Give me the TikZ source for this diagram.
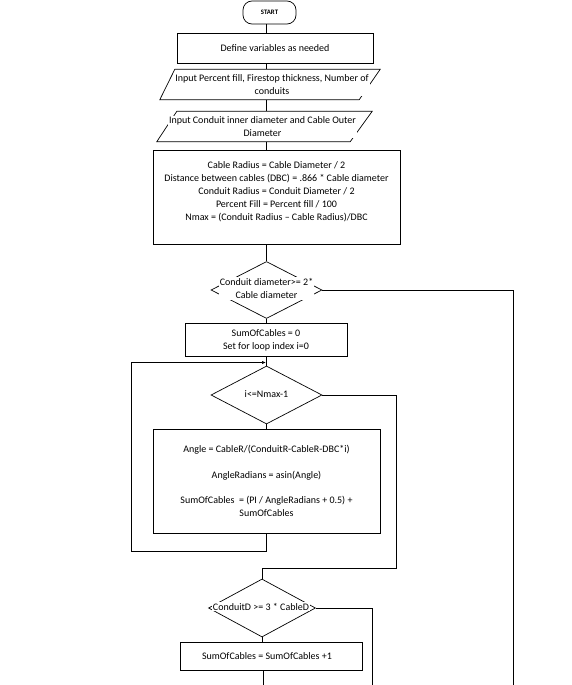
\documentclass[tikz,border=0pt]{standalone}
\usepackage{fontspec}
\setmainfont{Carlito}
\usetikzlibrary{shapes.geometric,arrows.meta}
\begin{document}
\begin{tikzpicture}[x=1pt,y=-1pt,
  ln/.style={draw=black, line width=0.7pt},
  procbox/.style={draw=black, line width=0.7pt, inner sep=1pt, align=center,
     font=\fontsize{10}{13}\selectfont},
  startbox/.style={draw=black, line width=0.7pt, rounded corners=9pt,
     minimum width=53pt, minimum height=23pt, inner sep=0pt,
     font=\bfseries\fontsize{6.8}{7}\selectfont},
  txt/.style={align=center, inner sep=1pt, font=\fontsize{10}{13}\selectfont},
  wtxt/.style={txt, fill=white},
  decis/.style={diamond, draw=black, line width=0.7pt, inner sep=0pt},
  ghost/.style={inner sep=0pt},
  tip/.style={-{Latex[length=4pt,width=3.2pt]}}
]
\useasboundingbox (0,0) rectangle (571,685);
\coordinate (spine) at (266,0);

% start
\node[startbox] (start) at (269.5,12.5) {START};
% define
\node[procbox, minimum width=196pt, minimum height=30pt] (define) at (275,48) {Define variables as needed};

% parallelogram 1
\node[ghost, minimum width=220pt, minimum height=30pt] (p1) at (270,84.5) {};
\draw[ln] ([xshift=15pt]p1.north west) -- (p1.north east) -- ([xshift=-21pt]p1.south east) -- (p1.south west) -- cycle;
\node[wtxt] (p1t) at (272,84.5) {Input Percent fill, Firestop thickness, Number of\\conduits};

% parallelogram 2
\node[ghost, minimum width=215pt, minimum height=30pt] (p2) at (264.5,126.5) {};
\draw[ln] ([xshift=20pt]p2.north west) -- (p2.north east) -- ([xshift=-22pt]p2.south east) -- (p2.south west) -- cycle;
\node[wtxt] (p2t) at (262.5,127) {Input Conduit inner diameter and Cable Outer\\Diameter};

% calculation box
\node[procbox, minimum width=247pt, minimum height=94pt] (calc) at (276.5,197) {};
\node[txt] (calct) at (276.5,191.5) {Cable Radius = Cable Diameter / 2\\
Distance between cables (DBC) = .866 * Cable diameter\\
Conduit Radius = Conduit Diameter / 2\\
Percent Fill = Percent fill / 100\\
Nmax = (Conduit Radius -- Cable Radius)/DBC};

% decision 1
\node[decis, minimum width=111pt, minimum height=57pt] (d1) at (266.5,290) {};
\node[wtxt] (d1t) at (266.5,288.5) {Conduit diameter>= 2*\\Cable diameter};

% sum = 0
\node[procbox, minimum width=162pt, minimum height=33pt] (sum0) at (266,340) {SumOfCables = 0\\Set for loop index i=0};

% decision 2
\node[decis, minimum width=111pt, minimum height=58pt] (d2) at (266.5,395) {};
\node[wtxt] (d2t) at (266.5,394) {i<=Nmax-1};

% loop body
\node[procbox, minimum width=227pt, minimum height=104pt] (body) at (266.5,481) {Angle = CableR/(ConduitR-CableR-DBC*i)\\[13pt]
AngleRadians = asin(Angle)\\[12pt]
SumOfCables \ = (PI / AngleRadians + 0.5) +\\SumOfCables};

% decision 3
\node[decis, minimum width=107pt, minimum height=58pt] (d3) at (262,608) {};
\node[wtxt] (d3t) at (261,606.5) {ConduitD >= 3 * CableD};

% sum + 1
\node[procbox, minimum width=182pt, minimum height=28pt] (sum1) at (271,656) {\hspace*{-8pt}SumOfCables = SumOfCables +1};

% helper coordinates
\coordinate (exitA) at (513,685);
\coordinate (loopL) at (131,551);
\coordinate (join1) at (266,362.5);
\coordinate (rB) at (396,568);
\coordinate (exitC) at (372,685);
\coordinate (bot) at (263,685);

% connectors
\draw[ln] (start.south -| spine) -- (define.north -| spine);
\draw[ln] (define.south -| spine) -- (p1.north -| spine);
\draw[ln] (p1.south -| spine) -- (p2.north -| spine);
\draw[ln] (p2.south -| spine) -- (calc.north -| spine);
\draw[ln] (calc.south -| spine) -- (d1.north -| spine);
\draw[ln] (d1.south -| spine) -- (sum0.north -| spine);
\draw[ln] (d1.east) -| (exitA);
\draw[ln] (sum0.south -| spine) -- (d2.north -| spine);
\draw[ln] (d2.south -| spine) -- (body.north -| spine);
\draw[ln, tip] (body.south -| spine) |- (loopL) |- (join1);
\draw[ln] (d2.east) -| (rB) -- (rB -| d3.north) -- (d3.north);
\draw[ln] (d3.east) -| (exitC);
\draw[ln] (d3.south) -- (sum1.north -| d3.south);
\draw[ln] (sum1.south -| bot) -- (bot);
\end{tikzpicture}
\end{document}
